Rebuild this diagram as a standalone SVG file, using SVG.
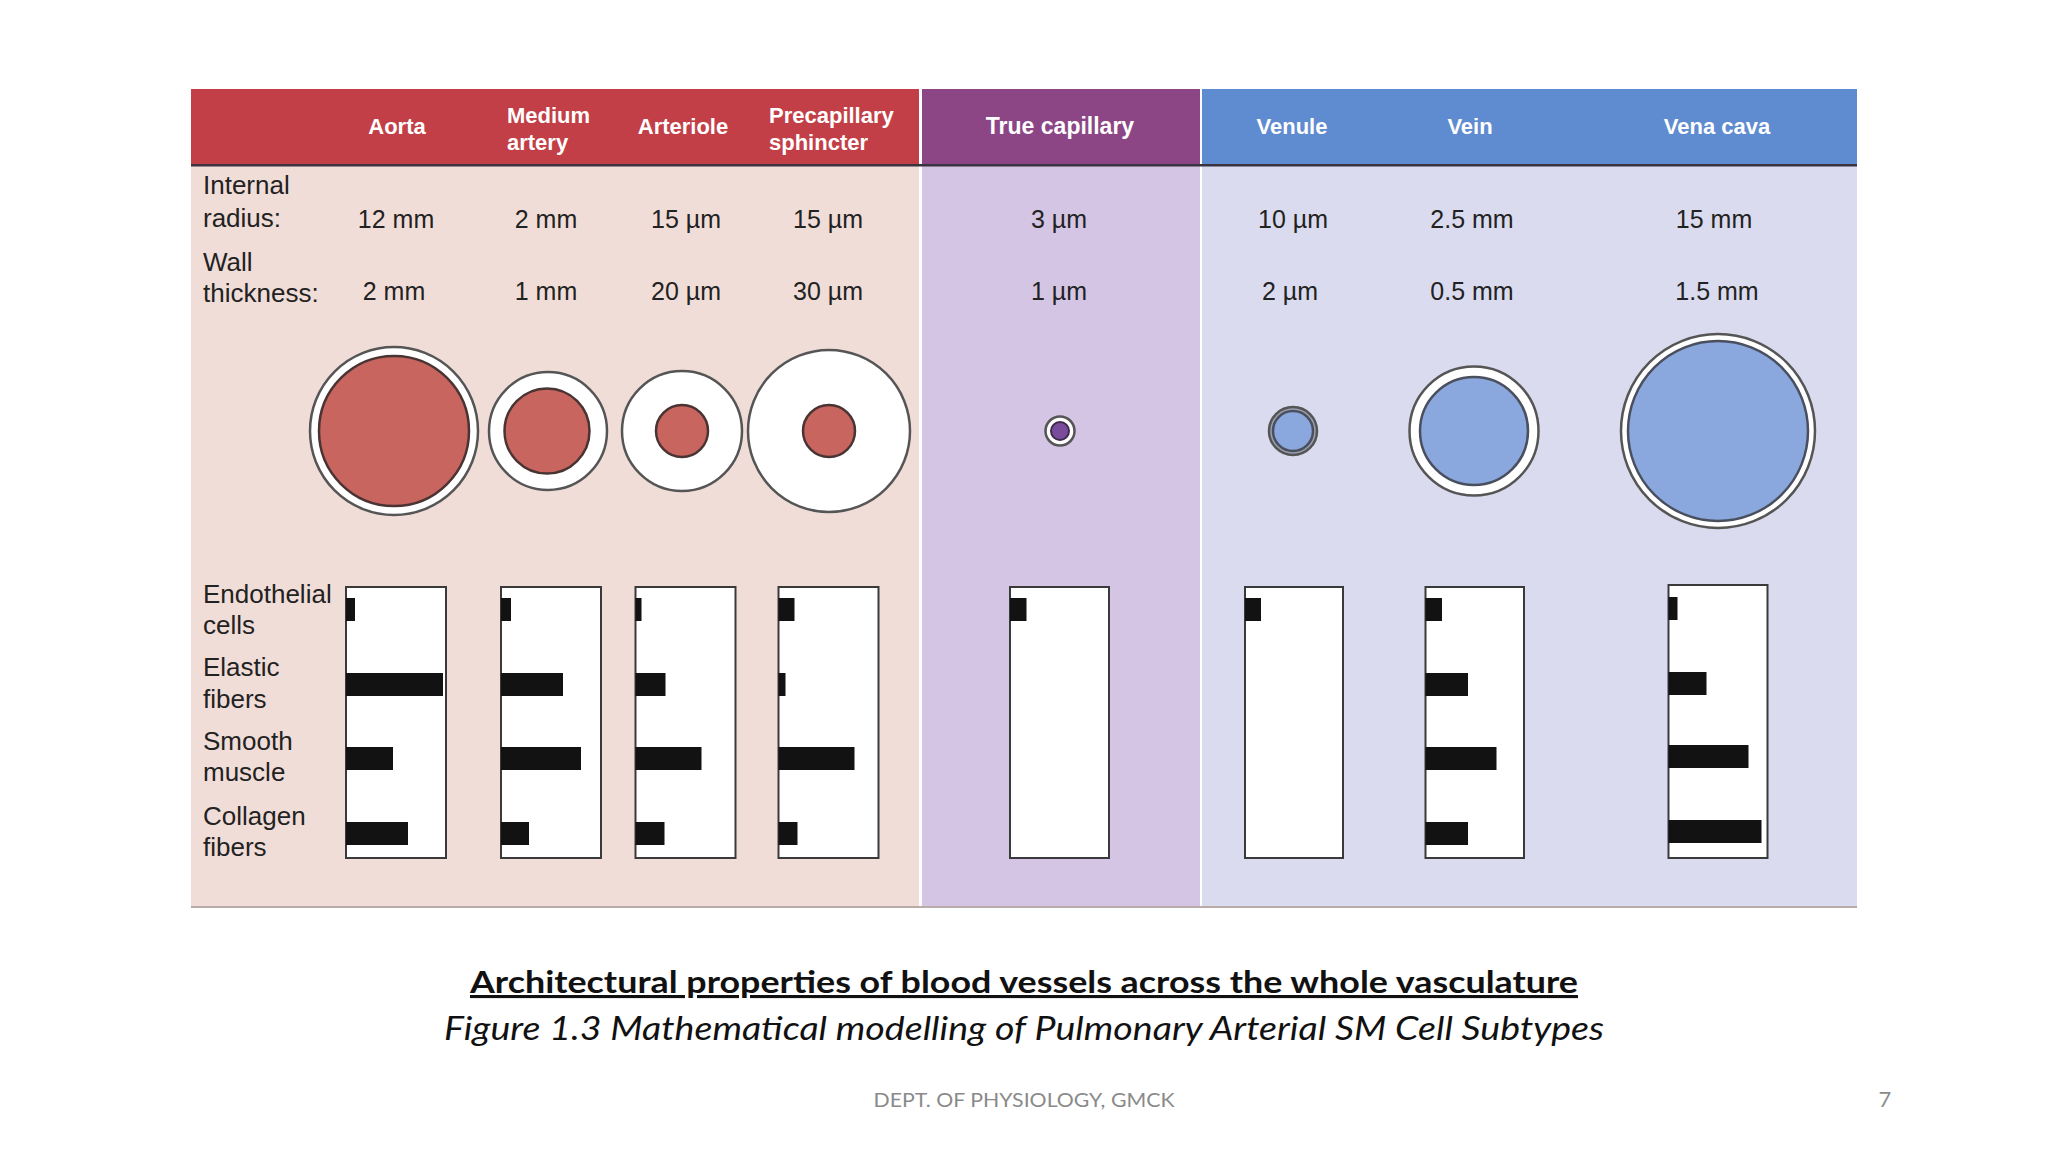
<svg xmlns="http://www.w3.org/2000/svg" width="2048" height="1152" viewBox="0 0 2048 1152">
<style>
.hd{font-family:"Liberation Sans",Arial,sans-serif;font-weight:bold;font-size:22px;fill:#ffffff}
.lb{font-family:"Liberation Sans",Arial,sans-serif;font-size:26px;fill:#222222}
.vl{font-family:"Liberation Sans",Arial,sans-serif;font-size:25px;fill:#222222;text-anchor:middle}
.wall{fill:#ffffff;stroke:#555555;stroke-width:2.5}
.lr{fill:#c8655f;stroke:#4a3333;stroke-width:2.5}
.lb2{fill:#8aa7de;stroke:#4a4f5e;stroke-width:2.5}
.lp{fill:#7b4b9b;stroke:#3e2a4a;stroke-width:2}
.box{fill:#ffffff;stroke:#3a3a3a;stroke-width:2}
.bar{fill:#121212}
.mid{text-anchor:middle}
</style>
<rect width="2048" height="1152" fill="#ffffff"/>
<g id="panel">
<rect x="191" y="89" width="728" height="819" fill="#f1ddd8"/>
<rect x="922" y="89" width="278" height="819" fill="#d4c5e4"/>
<rect x="1202" y="89" width="655" height="819" fill="#dadbee"/>
<rect x="191" y="89" width="728" height="76" fill="#c33f47"/>
<rect x="922" y="89" width="278" height="76" fill="#8c4585"/>
<rect x="1202" y="89" width="655" height="76" fill="#5f8bd0"/>
<rect x="191" y="164" width="1666" height="2.5" fill="#3a3340"/>
<rect x="191" y="906" width="1666" height="2" fill="#b9aca8"/>
</g>
<g id="header">
<text class="hd mid" x="397" y="134">Aorta</text>
<text class="hd" x="507" y="123">Medium</text>
<text class="hd" x="507" y="150">artery</text>
<text class="hd mid" x="683" y="134">Arteriole</text>
<text class="hd" x="769" y="123">Precapillary</text>
<text class="hd" x="769" y="150">sphincter</text>
<text class="hd mid" x="1060" y="134" style="font-size:23px">True capillary</text>
<text class="hd mid" x="1292" y="134">Venule</text>
<text class="hd mid" x="1470" y="134">Vein</text>
<text class="hd mid" x="1717" y="134">Vena cava</text>
</g>
<g id="row-labels">
<text class="lb" x="203" y="194">Internal</text>
<text class="lb" x="203" y="227">radius:</text>
<text class="lb" x="203" y="271">Wall</text>
<text class="lb" x="203" y="302">thickness:</text>
<text class="lb" x="203" y="603">Endothelial</text>
<text class="lb" x="203" y="634">cells</text>
<text class="lb" x="203" y="676">Elastic</text>
<text class="lb" x="203" y="708">fibers</text>
<text class="lb" x="203" y="750">Smooth</text>
<text class="lb" x="203" y="781">muscle</text>
<text class="lb" x="203" y="825">Collagen</text>
<text class="lb" x="203" y="856">fibers</text>
</g>
<g id="values">
<text class="vl" x="396" y="228">12 mm</text>
<text class="vl" x="546" y="228">2 mm</text>
<text class="vl" x="686" y="228">15 µm</text>
<text class="vl" x="828" y="228">15 µm</text>
<text class="vl" x="1059" y="228">3 µm</text>
<text class="vl" x="1293" y="228">10 µm</text>
<text class="vl" x="1472" y="228">2.5 mm</text>
<text class="vl" x="1714" y="228">15 mm</text>
<text class="vl" x="394" y="300">2 mm</text>
<text class="vl" x="546" y="300">1 mm</text>
<text class="vl" x="686" y="300">20 µm</text>
<text class="vl" x="828" y="300">30 µm</text>
<text class="vl" x="1059" y="300">1 µm</text>
<text class="vl" x="1290" y="300">2 µm</text>
<text class="vl" x="1472" y="300">0.5 mm</text>
<text class="vl" x="1717" y="300">1.5 mm</text>
</g>
<g id="vessel-aorta">
<circle class="wall" cx="394" cy="431" r="84"/>
<circle class="lr" cx="394" cy="431" r="75"/>
</g>
<g id="vessel-medium-artery">
<circle class="wall" cx="548" cy="431" r="59"/>
<circle class="lr" cx="547" cy="431" r="42.5"/>
</g>
<g id="vessel-arteriole">
<circle class="wall" cx="682" cy="431" r="60"/>
<circle class="lr" cx="682" cy="431" r="26"/>
</g>
<g id="vessel-precapillary">
<circle class="wall" cx="829" cy="431" r="81"/>
<circle class="lr" cx="829" cy="431" r="26"/>
</g>
<g id="vessel-capillary">
<circle class="wall" cx="1060" cy="431" r="14.5"/>
<circle class="lp" cx="1060" cy="431" r="9"/>
</g>
<g id="vessel-venule">
<circle class="wall" cx="1293" cy="431" r="24" style="fill:#9a9fb0"/>
<circle class="lb2" cx="1293" cy="431" r="20"/>
</g>
<g id="vessel-vein">
<circle class="wall" cx="1474" cy="431" r="64.5"/>
<circle class="lb2" cx="1474" cy="431" r="54"/>
</g>
<g id="vessel-vena-cava">
<circle class="wall" cx="1718" cy="431" r="97"/>
<circle class="lb2" cx="1718" cy="431" r="90"/>
</g>
<g id="bars-aorta">
<rect class="box" x="346" y="587" width="100" height="271"/>
<rect class="bar" x="346" y="598" width="9" height="23"/>
<rect class="bar" x="346" y="673" width="97" height="23"/>
<rect class="bar" x="346" y="747" width="47" height="23"/>
<rect class="bar" x="346" y="822" width="62" height="23"/>
</g>
<g id="bars-medium-artery">
<rect class="box" x="501" y="587" width="100" height="271"/>
<rect class="bar" x="501" y="598" width="10" height="23"/>
<rect class="bar" x="501" y="673" width="62" height="23"/>
<rect class="bar" x="501" y="747" width="80" height="23"/>
<rect class="bar" x="501" y="822" width="28" height="23"/>
</g>
<g id="bars-arteriole">
<rect class="box" x="635.5" y="587" width="100" height="271"/>
<rect class="bar" x="635.5" y="598" width="6" height="23"/>
<rect class="bar" x="635.5" y="673" width="30" height="23"/>
<rect class="bar" x="635.5" y="747" width="66" height="23"/>
<rect class="bar" x="635.5" y="822" width="29" height="23"/>
</g>
<g id="bars-precapillary">
<rect class="box" x="778.5" y="587" width="100" height="271"/>
<rect class="bar" x="778.5" y="598" width="16" height="23"/>
<rect class="bar" x="778.5" y="673" width="7" height="23"/>
<rect class="bar" x="778.5" y="747" width="76" height="23"/>
<rect class="bar" x="778.5" y="822" width="19" height="23"/>
</g>
<g id="bars-capillary">
<rect class="box" x="1010" y="587" width="99" height="271"/>
<rect class="bar" x="1010" y="598" width="16.5" height="23"/>
</g>
<g id="bars-venule">
<rect class="box" x="1245" y="587" width="98" height="271"/>
<rect class="bar" x="1245" y="598" width="16" height="23"/>
</g>
<g id="bars-vein">
<rect class="box" x="1425.5" y="587" width="98.5" height="271"/>
<rect class="bar" x="1425.5" y="598" width="16.5" height="23"/>
<rect class="bar" x="1425.5" y="673" width="42.5" height="23"/>
<rect class="bar" x="1425.5" y="747" width="71" height="23"/>
<rect class="bar" x="1425.5" y="822" width="42.5" height="23"/>
</g>
<g id="bars-vena-cava">
<rect class="box" x="1668.5" y="585" width="99" height="273"/>
<rect class="bar" x="1668.5" y="597" width="9" height="23"/>
<rect class="bar" x="1668.5" y="672" width="38" height="23"/>
<rect class="bar" x="1668.5" y="745" width="80" height="23"/>
<rect class="bar" x="1668.5" y="820" width="93" height="23"/>
</g>
<g id="caption">
<text x="1024" y="993" text-anchor="middle" textLength="1108" lengthAdjust="spacingAndGlyphs" style="font-family:Lato,'Open Sans',sans-serif;font-weight:bold;font-size:31px;fill:#111111;text-decoration:underline">Architectural properties of blood vessels across the whole vasculature</text>
<text x="1024" y="1040" text-anchor="middle" textLength="1160" lengthAdjust="spacingAndGlyphs" style="font-family:Lato,'Open Sans',sans-serif;font-style:italic;font-size:32px;fill:#111111">Figure 1.3 Mathematical modelling of Pulmonary Arterial SM Cell Subtypes</text>
<text x="1024" y="1107" text-anchor="middle" textLength="301" lengthAdjust="spacingAndGlyphs" style="font-family:Lato,'Open Sans',sans-serif;font-size:20px;fill:#8a8a8a">DEPT. OF PHYSIOLOGY, GMCK</text>
<text x="1885" y="1107" text-anchor="middle" style="font-family:Lato,'Open Sans',sans-serif;font-size:22px;fill:#8a8a8a">7</text>
</g>
</svg>
